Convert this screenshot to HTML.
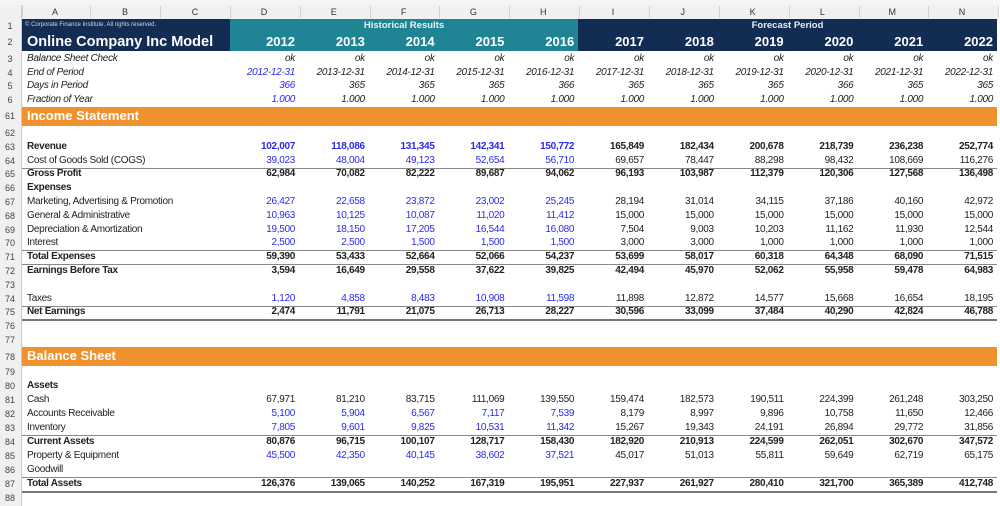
<!DOCTYPE html>
<html><head><meta charset="utf-8"><style>
body{margin:0;width:1000px;height:506px;background:#fff;position:relative;overflow:hidden;font-family:"Liberation Sans",Arial,sans-serif;}
.a{position:absolute;white-space:nowrap;}
.c{font-size:10px;line-height:14px;letter-spacing:-0.3px;color:#222;}
.num{text-align:right;width:66px;}
.b{font-weight:bold;}
.blue{color:#2a2af0;}
.i{font-style:italic;}
.rn{font-size:9px;color:#444;width:20px;text-align:center;left:0;}
</style></head><body>
<div class="a" style="left:0;top:0;width:1000px;height:5px;background:#f4f5f7"></div>
<div class="a" style="left:0;top:5px;width:998px;height:14px;background:#f0f0f0;border-bottom:1px solid #ccc"></div>
<div class="a" style="left:0;top:5px;width:21px;height:501px;background:#f0f0f0;border-right:1px solid #ccc"></div>
<div class="a" style="left:22px;top:19px;width:208px;height:32px;background:#132c54"></div>
<div class="a" style="left:230px;top:19px;width:348px;height:32px;background:#1f8494"></div>
<div class="a" style="left:578px;top:19px;width:419px;height:32px;background:#132c54"></div>
<div class="a" style="left:25px;top:22px;font-size:6px;color:#cfd6e4">© Corporate Finance Institute. All rights reserved.</div>
<div class="a" style="left:27px;top:34px;font-size:14.5px;font-weight:bold;color:#fff">Online Company Inc Model</div>
<div class="a" style="left:230px;top:20px;width:348px;text-align:center;font-size:9.5px;font-weight:bold;color:#e8f4f6">Historical Results</div>
<div class="a" style="left:578px;top:20px;width:419px;text-align:center;font-size:9.5px;font-weight:bold;color:#e8ecf4">Forecast Period</div>
<div class="a" style="left:22px;top:107px;width:975px;height:19px;background:#ef922e"></div>
<div class="a" style="left:27px;top:108px;font-size:13px;font-weight:bold;color:#fff">Income Statement</div>
<div class="a" style="left:22px;top:347px;width:975px;height:19px;background:#ef922e"></div>
<div class="a" style="left:27px;top:348px;font-size:13px;font-weight:bold;color:#fff">Balance Sheet</div>
<script>
const years=[2012,2013,2014,2015,2016,2017,2018,2019,2020,2021,2022];
const colLetters=["A","B","C","D","E","F","G","H","I","J","K","L","M","N"];
const daysInPeriod=[366,365,365,365,366,365,365,365,366,365,365];
const revenue=[102007,118086,131345,142341,150772,165849,182434,200678,218739,236238,252774];
const cogs=[39023,48004,49123,52654,56710,69657,78447,88298,98432,108669,116276];
const grossProfit=[62984,70082,82222,89687,94062,96193,103987,112379,120306,127568,136498];
const marketing=[26427,22658,23872,23002,25245,28194,31014,34115,37186,40160,42972];
const generalAdmin=[10963,10125,10087,11020,11412,15000,15000,15000,15000,15000,15000];
const depreciation=[19500,18150,17205,16544,16080,7504,9003,10203,11162,11930,12544];
const interest=[2500,2500,1500,1500,1500,3000,3000,1000,1000,1000,1000];
const totalExpenses=[59390,53433,52664,52066,54237,53699,58017,60318,64348,68090,71515];
const ebt=[3594,16649,29558,37622,39825,42494,45970,52062,55958,59478,64983];
const taxes=[1120,4858,8483,10908,11598,11898,12872,14577,15668,16654,18195];
const netEarnings=[2474,11791,21075,26713,28227,30596,33099,37484,40290,42824,46788];
const cash=[67971,81210,83715,111069,139550,159474,182573,190511,224399,261248,303250];
const receivables=[5100,5904,6567,7117,7539,8179,8997,9896,10758,11650,12466];
const inventory=[7805,9601,9825,10531,11342,15267,19343,24191,26894,29772,31856];
const currentAssets=[80876,96715,100107,128717,158430,182920,210913,224599,262051,302670,347572];
const ppe=[45500,42350,40145,38602,37521,45017,51013,55811,59649,62719,65175];
const totalAssets=[126376,139065,140252,167319,195951,227937,261927,280410,321700,365389,412748];

function rowY(n){if(n===0)return 12;if(n===1)return 26;if(n===2)return 42;
 if(n<=6)return 59+(n-3)*13.5; if(n===61)return 116; if(n<=77)return 133+(n-62)*13.8; if(n===78)return 357; return 372+(n-79)*14;}
function colRight(k){return 295+69.8*k;}
function add(html,cls,style,name,inter){const d=document.createElement('div');d.className='a '+cls;d.setAttribute('style',style);d.textContent=html;
 
 
 document.body.appendChild(d);return d;}
// column letters
const colCenters=[55,125,195];
colLetters.forEach((L,i)=>{const cx=i<3?colCenters[i]:264+(i-3)*69.8;
 add(L,'','left:'+(cx-15)+'px;top:5px;width:30px;text-align:center;font-size:9px;line-height:14px;color:#333','column-header-'+L,true);});
[22,90,160,230,300,370,439,509,579,649,719,789,859,928,998].forEach(x=>{const d=add('','', 'left:'+x+'px;top:6px;width:1px;height:12px;background:#d4d4d4','column-divider',false);});
// row numbers
const rowNums=[1,2,3,4,5,6,61].concat(Array.from({length:27},(_,i)=>62+i));
rowNums.forEach(n=>{add(String(n),'rn','top:'+(rowY(n)-7)+'px;line-height:14px','row-number-'+n,true);});
// years
years.forEach((y,k)=>{add(String(y),'','left:'+(colRight(k)-66)+'px;top:34px;width:66px;text-align:right;font-size:13px;font-weight:bold;color:#fff','year-'+y,false);});
function fmt(v){return v.toLocaleString('en-US');}
function label(n,t,bold,italic){add(t,'c'+(bold?' b':'')+(italic?' i':''),'left:27px;top:'+(rowY(n)-7)+'px','label-'+t.toLowerCase().replace(/[^a-z]+/g,'-'),false);}
function vals(n,arr,opts){arr.forEach((v,k)=>{const blue=opts.blueHist&&k<5;
 add(typeof v==='number'?(opts.dec?v.toFixed(3):fmt(v)):v,'c num'+(opts.bold?' b':'')+(opts.italic?' i':'')+(blue?' blue':''),'left:'+(colRight(k)-66)+'px;top:'+(rowY(n)-7)+'px','cell-r'+n+'-'+years[k],true);});}
label(3,'Balance Sheet Check',0,1);vals(3,years.map(()=> 'ok'),{italic:1});
label(4,'End of Period',0,1);
years.forEach((y,k)=>{add(y+'-12-31','c num i'+(k===0?' blue':''),'left:'+(colRight(k)-66)+'px;top:'+(rowY(4)-7)+'px','cell-r4-'+y,true);});
label(5,'Days in Period',0,1);
daysInPeriod.forEach((v,k)=>{add(String(v),'c num i'+(k===0?' blue':''),'left:'+(colRight(k)-66)+'px;top:'+(rowY(5)-7)+'px','cell-r5-'+years[k],true);});
label(6,'Fraction of Year',0,1);
years.forEach((y,k)=>{add('1.000','c num i'+(k===0?' blue':''),'left:'+(colRight(k)-66)+'px;top:'+(rowY(6)-7)+'px','cell-r6-'+y,true);});
label(63,'Revenue',1);vals(63,revenue,{bold:1,blueHist:1});
label(64,'Cost of Goods Sold (COGS)');vals(64,cogs,{blueHist:1});
label(65,'Gross Profit',1);vals(65,grossProfit,{bold:1});
label(66,'Expenses',1);
label(67,'Marketing, Advertising & Promotion');vals(67,marketing,{blueHist:1});
label(68,'General & Administrative');vals(68,generalAdmin,{blueHist:1});
label(69,'Depreciation & Amortization');vals(69,depreciation,{blueHist:1});
label(70,'Interest');vals(70,interest,{blueHist:1});
label(71,'Total Expenses',1);vals(71,totalExpenses,{bold:1});
label(72,'Earnings Before Tax',1);vals(72,ebt,{bold:1});
label(74,'Taxes');vals(74,taxes,{blueHist:1});
label(75,'Net Earnings',1);vals(75,netEarnings,{bold:1});
label(80,'Assets',1);
label(81,'Cash');vals(81,cash,{});
label(82,'Accounts Receivable');vals(82,receivables,{blueHist:1});
label(83,'Inventory');vals(83,inventory,{blueHist:1});
label(84,'Current Assets',1);vals(84,currentAssets,{bold:1});
label(85,'Property & Equipment');vals(85,ppe,{blueHist:1});
label(86,'Goodwill');
label(87,'Total Assets',1);vals(87,totalAssets,{bold:1});
function rule(after,h,col){const y=Math.round(rowY(after)+7);add('','','left:22px;top:'+y+'px;width:975px;height:'+h+'px;background:'+col,'row-rule-'+after,false);}
[64,70,71,74,83,86].forEach(n=>rule(n,1,'#888'));
rule(75,2,'#777');rule(87,2,'#777');
</script>
</body></html>
